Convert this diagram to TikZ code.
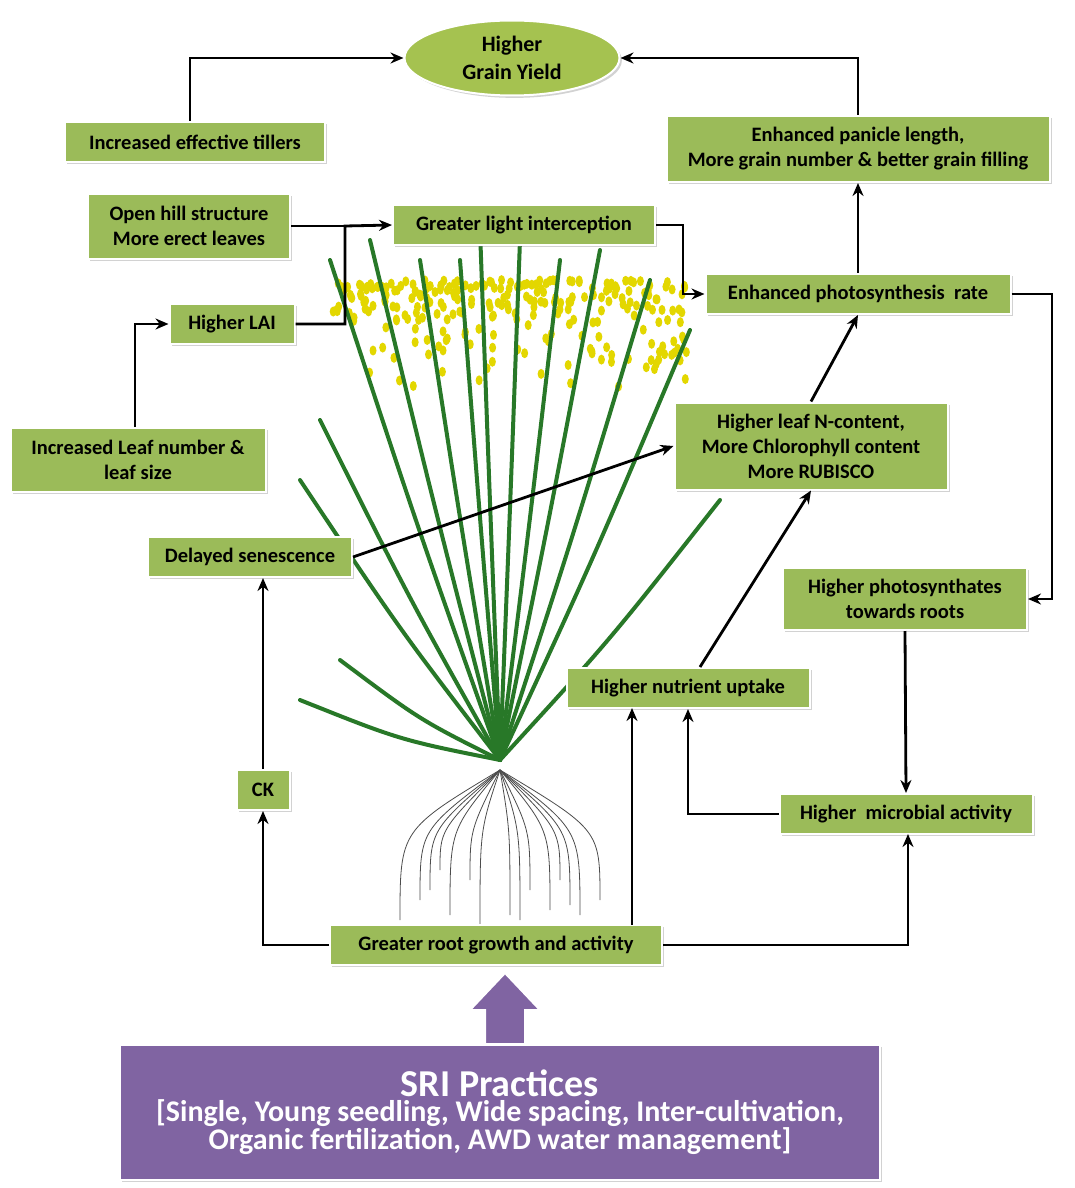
\documentclass[tikz,border=0pt]{standalone}
\usepackage{fontspec}
\setmainfont{Carlito}
\usetikzlibrary{shadows,arrows.meta,shapes.geometric,calc}
\definecolor{gbox}{RGB}{155,187,89}
\definecolor{pbox}{RGB}{128,100,162}
\definecolor{leafg}{RGB}{40,120,40}
\begin{document}
\begin{tikzpicture}[x=1pt,y=-1pt,
  gb/.style={fill=gbox,draw=white,line width=2pt,drop shadow={opacity=0.35,shadow xshift=2pt,shadow yshift=-2pt},font=\fontsize{20.5}{25}\selectfont\bfseries,align=center,inner sep=0pt},
  conn/.style={-{Stealth[length=13pt,width=11pt]},line width=2.8pt}]
\fill[white] (0,0) rectangle (1074,1188);
% plant (simplified)
\begin{scope}
\foreach \a/\b in {400/920,420/900,450/915,480/925,520/920,550/910,580/915,600/900,470/880,530/890,440/870,560/880,430/890,510/915,570/905}
  \draw[gray!60!black,line width=0.8pt] (500,770) .. controls (\a,830) .. (\a,\b);
\foreach \i in {1,...,260}{
  \pgfmathsetmacro{\px}{330+360*rnd}
  \pgfmathsetmacro{\py}{280+120*rnd*rnd}
  \fill[yellow!75!olive] (\px,\py) ellipse (3.5 and 5);}
\foreach \tx/\ty in {330/260,370/240,420/260,460/260,480/230,520/240,560/260,600/250,650/280,690/330,720/500,320/420,300/480,340/660,300/700}
  \draw[leafg,line width=4pt,line cap=round] (500,760) .. controls ($(500,760)!0.5!(\tx,\ty)+(0,10)$) .. (\tx,\ty);
\end{scope}
% nodes
\node[ellipse,fill=gbox!90!yellow,draw=white,line width=2pt,minimum width=215,minimum height=75,font=\fontsize{22}{28}\selectfont\bfseries,align=center,drop shadow={opacity=0.35}] (yield) at (512,58) {Higher\\Grain Yield};
\node[gb,minimum width=260,minimum height=40] (till) at (195,142) {Increased effective tillers};
\node[gb,minimum width=383,minimum height=66] (pan) at (858,149) {Enhanced panicle length,\\More grain number \& better grain filling};
\node[gb,minimum width=202,minimum height=65] (open) at (189,226) {Open hill structure\\More erect leaves};
\node[gb,minimum width=262,minimum height=40] (light) at (524,225) {Greater light interception};
\node[gb,minimum width=305,minimum height=40] (photo) at (858,294) {Enhanced photosynthesis\ \ rate};
\node[gb,minimum width=125,minimum height=40] (lai) at (232,324) {Higher LAI};
\node[gb,minimum width=255,minimum height=64] (leafn) at (138,460) {Increased Leaf number \&\\leaf size};
\node[gb,minimum width=273,minimum height=87] (nc) at (811,446) {Higher leaf N-content,\\More Chlorophyll content\\More RUBISCO};
\node[gb,minimum width=204,minimum height=40] (sen) at (250,557) {Delayed senescence};
\node[gb,minimum width=244,minimum height=62] (pts) at (905,599) {Higher photosynthates\\towards roots};
\node[gb,minimum width=243,minimum height=40] (nut) at (688,688) {Higher nutrient uptake};
\node[gb,minimum width=53,minimum height=40] (ck) at (263,790) {CK};
\node[gb,minimum width=253,minimum height=40] (mic) at (906,814) {Higher\ \ microbial activity};
\node[gb,minimum width=332,minimum height=40] (root) at (496,945) {Greater root growth and activity};
\node[fill=pbox,draw=white,line width=2pt,minimum width=760,minimum height=135,text=white,font=\bfseries,align=center,drop shadow={opacity=0.35}] (sri) at (500,1112) {{\fontsize{38}{40}\selectfont SRI Practices}\\[2pt]{\fontsize{30}{34}\selectfont [Single, Young seedling, Wide spacing, Inter-cultivation,}\\{\fontsize{30}{34}\selectfont Organic fertilization, AWD water management]}};
% big arrow
\fill[pbox,draw=white,line width=2pt] (485,1044) -- (485,1010) -- (470,1010) -- (505,973) -- (540,1010) -- (525,1010) -- (525,1044) -- cycle;
% connectors
\draw[conn] (till.north -| 190,0) |- (yield.west);
\draw[conn] (pan.north) |- (yield.east);
\draw[line width=2.8pt] (open.east) -- (345,226);
\draw[conn] (lai.east) -| (345,226) -- (light.west);
\draw[conn] (light.east) -- (683,225) |- (photo.west);
\draw[conn] (photo.north) -- (pan.south);
\draw[conn] (photo.east) -- (1052,294) |- (pts.east);
\draw[conn] (nc.north) -- (photo.south);
\draw[conn] (leafn.north -| 135,0) |- (lai.west);
\draw[conn] (sen.east) -- (nc.west);
\draw[conn] (nut.north -| 700,0) -- (nc.south);
\draw[conn] (pts.south) -- (mic.north);
\draw[conn] (mic.west) -| (nut.south);
\draw[conn] (root.west) -| (ck.south);
\draw[conn] (root.east) -| (908,834);
\draw[conn] (632,925) -- (632,708);
\draw[conn] (ck.north) -- (sen.south -| ck.north);
\end{tikzpicture}
\end{document}
